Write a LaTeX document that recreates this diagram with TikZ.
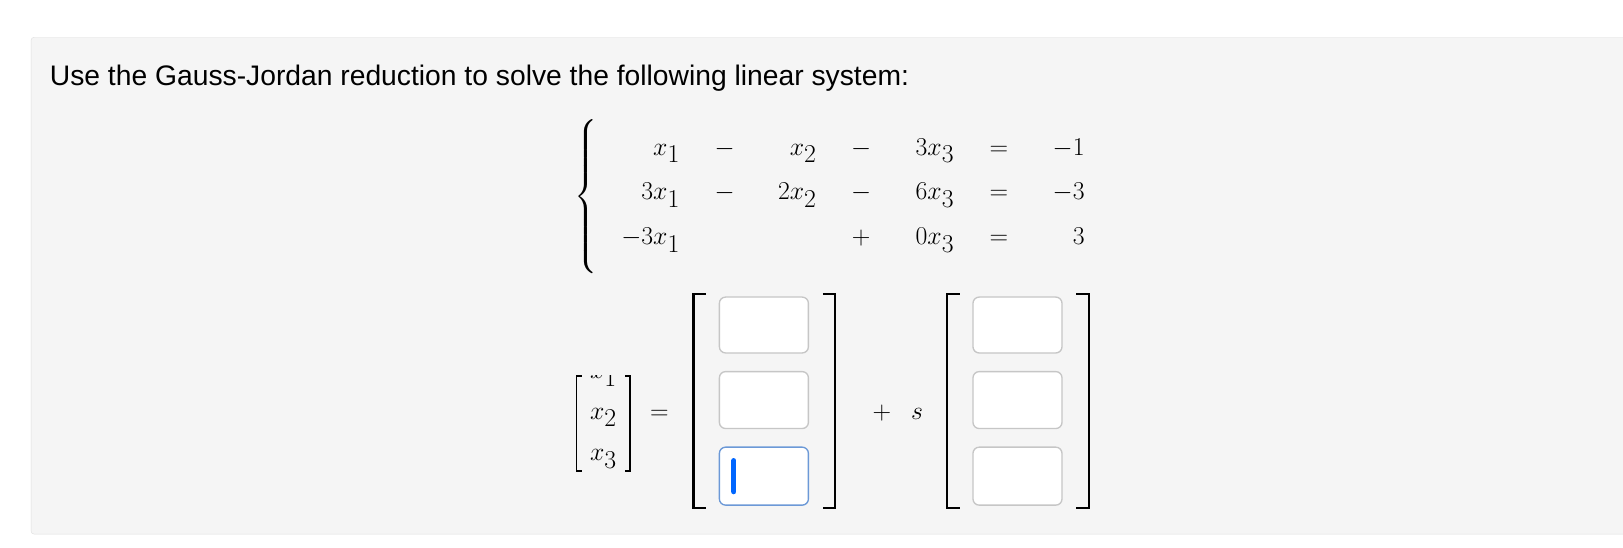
\documentclass[tikz,border=0pt]{standalone}
\usepackage{fontspec}
\setmainfont{Liberation Sans}
\usepackage{amsmath}
\begin{document}
\begin{tikzpicture}[x=1pt,y=-1pt,
  m/.style={inner sep=0pt,font=\fontsize{34}{36}\selectfont},
  ibox/.style={draw=gray!45,line width=1.3pt,fill=white,rounded corners=6pt},
  brk/.style={line width=2pt}]
\useasboundingbox (0,0) rectangle (1568,528.5);
\fill[white] (0,0) rectangle (1568,528.5);
\draw[gray!25,fill=gray!8,rounded corners=3pt] (30,36) rectangle (1590,516);
\node[m,inner sep=0pt] (brace) at (567,190) {$\left\{\vphantom{\rule{0pt}{78pt}}\right.$};
\node[anchor=base west,inner sep=0pt,font=\fontsize{27.3}{30}\selectfont] (title) at (48,83) {Use the Gauss-Jordan reduction to solve the following linear system:};
% system
\foreach \y/\a/\b/\c/\d/\e/\f/\g in {150/x_1/-/x_2/-/3x_3/=/-1, 193/3x_1/-/2x_2/-/6x_3/=/-3, 236/-3x_1/ / /+/0x_3/=/3}{
  \node[m,anchor=base east] at (657,\y) {$\a$};
  \node[m,anchor=base] at (700,\y) {$\b$};
  \node[m,anchor=base east] at (789,\y) {$\c$};
  \node[m,anchor=base] at (832,\y) {$\d$};
  \node[m,anchor=base east] at (922,\y) {$\e$};
  \node[m,anchor=base] at (965,\y) {$\f$};
  \node[m,anchor=base east] at (1048,\y) {$\g$};
}
% left vector
\begin{scope}
\clip (560,363) rectangle (620,480);
\node[m,anchor=base] (x1) at (583,366) {$x_1$};
\end{scope}
\node[m,anchor=base] (x2) at (583,405) {$x_2$};
\node[m,anchor=base] (x3) at (583,445) {$x_3$};
\draw[line width=1.8pt] (562,363) -- (557,363) -- (557,455) -- (562,455);
\draw[line width=1.8pt] (604,363) -- (609,363) -- (609,455) -- (604,455);
\node[m,anchor=base] (eq) at (637,405) {$=$};
% bracket 1
\draw[brk] (682,284) -- (670,284) -- (670,491) -- (682,491);
\draw[brk] (795,284) -- (807,284) -- (807,491) -- (795,491);
\draw[ibox] (695,287) rectangle (781,341);
\draw[ibox] (695,359) rectangle (781,414);
\draw[ibox,draw=cyan!50!blue!60] (695,432) rectangle (781,488);
\draw[line width=5pt,line cap=round,blue!60!cyan] (709,445) -- (709,475);
\node[m,anchor=base] (plus) at (852,405) {$+$};
\node[m,anchor=base] (s) at (886,405) {$s$};
% bracket 2
\draw[brk] (927,284) -- (915,284) -- (915,491) -- (927,491);
\draw[brk] (1040,284) -- (1052,284) -- (1052,491) -- (1040,491);
\draw[ibox] (940,287) rectangle (1026,341);
\draw[ibox] (940,359) rectangle (1026,414);
\draw[ibox] (940,432) rectangle (1026,488);
\end{tikzpicture}
\end{document}
